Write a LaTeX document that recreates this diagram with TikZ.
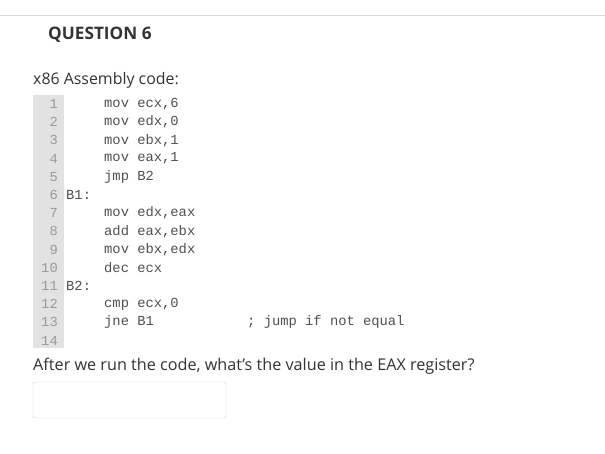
\documentclass[tikz,border=0pt]{standalone}
\usepackage{fontspec}
\setmainfont{Open Sans}
\newfontfamily\codefont{Liberation Mono}
\definecolor{txt}{HTML}{333333}
\definecolor{codec}{HTML}{505050}
\definecolor{numc}{HTML}{9A9A9A}
\definecolor{barc}{HTML}{E2E2E2}
\begin{document}
\begin{tikzpicture}[x=1pt,y=-1pt,
  code/.style={anchor=west,inner sep=0pt,font=\codefont\fontsize{13.8}{16}\selectfont,text=codec},
  num/.style={anchor=east,inner sep=0pt,font=\codefont\fontsize{13.8}{16}\selectfont,text=numc},
  para/.style={anchor=west,inner sep=0pt,text=txt}]
\useasboundingbox (0,0) rectangle (605,454);
\fill[white] (0,0) rectangle (605,454);
\draw[gray!30] (0,15) -- (605,15);
\node[para,font=\bfseries\fontsize{17.2}{18}\selectfont] (q) at (48,35) {QUESTION 6};
\node[para,font=\fontsize{15.9}{18}\selectfont] (h) at (33,80) {x86 Assembly code:};
\fill[barc] (33,95) rectangle (64,348);
\foreach \i in {1,...,14}{\node[num] (n\i) at (58,{104+18.2*(\i-1)}) {\i};}
\node[code] (c1) at (104,104) {mov ecx,6};
\node[code] (c2) at (104,122.2) {mov edx,0};
\node[code] (c3) at (104,140.4) {mov ebx,1};
\node[code] (c4) at (104,158.6) {mov eax,1};
\node[code] (c5) at (104,176.8) {jmp B2};
\node[code] (c6) at (66,195) {B1:};
\node[code] (c7) at (104,213.2) {mov edx,eax};
\node[code] (c8) at (104,231.4) {add eax,ebx};
\node[code] (c9) at (104,249.6) {mov ebx,edx};
\node[code] (c10) at (104,267.8) {dec ecx};
\node[code] (c11) at (66,286) {B2:};
\node[code] (c12) at (104,304.2) {cmp ecx,0};
\node[code] (c13) at (104,322.4) {jne B1};
\node[code] (cm) at (247,322.4) {; jump if not equal};
\node[para,font=\fontsize{16.2}{18}\selectfont] (a) at (33,366) {After we run the code, what’s the value in the EAX register?};
\draw[gray!35,rounded corners=2pt] (33,382) rectangle (226,418);
\end{tikzpicture}
\end{document}
